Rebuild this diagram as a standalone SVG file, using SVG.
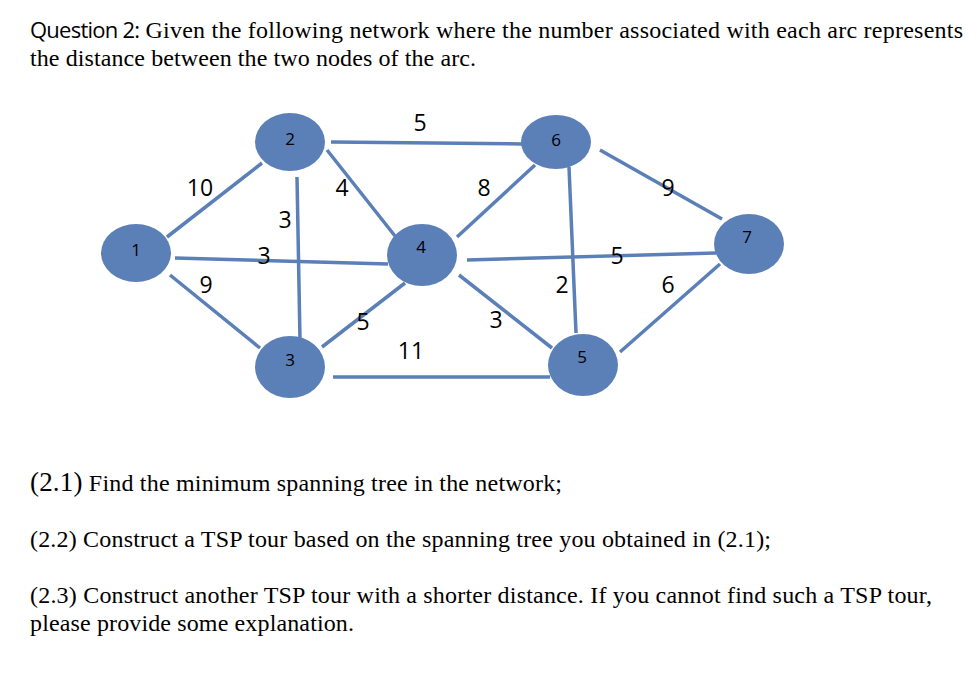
<svg xmlns="http://www.w3.org/2000/svg" width="969" height="677" viewBox="0 0 969 677">
<style>
.t{font-family:"Liberation Serif",serif;font-size:24px;fill:#000}
.e{stroke:#5b7fb7;stroke-width:3.5;fill:none}
.n{fill:#5b7fb7}
.nl{font-family:"Open Sans","Liberation Sans",sans-serif;font-size:17px;fill:#000;text-anchor:middle}
.el{font-family:"Open Sans","Liberation Sans",sans-serif;font-size:23px;fill:#000;text-anchor:middle}
</style>
<rect width="969" height="677" fill="#fff"/>
<text x="30" y="38" class="t" textLength="933" lengthAdjust="spacing"><tspan font-family="Open Sans,Liberation Sans,sans-serif" font-size="22" letter-spacing="-1">Question 2:</tspan>  Given the following network where the number associated with each arc represents</text>
<text x="30" y="66" class="t" textLength="446" lengthAdjust="spacing">the distance between the two nodes of the arc.</text>
<g id="connectors">
<line class="e" x1="167" y1="237" x2="262" y2="163"/>
<line class="e" x1="175" y1="258" x2="388" y2="264"/>
<line class="e" x1="170" y1="275" x2="260" y2="348"/>
<line class="e" x1="297" y1="177" x2="300" y2="340"/>
<line class="e" x1="327" y1="150" x2="395" y2="236"/>
<line class="e" x1="331" y1="142" x2="522" y2="144"/>
<line class="e" x1="457" y1="237" x2="535" y2="165"/>
<line class="e" x1="467" y1="260" x2="716" y2="253"/>
<line class="e" x1="459" y1="275" x2="552" y2="348"/>
<line class="e" x1="569" y1="167" x2="576" y2="333"/>
<line class="e" x1="600" y1="150" x2="722" y2="219"/>
<line class="e" x1="333" y1="377" x2="550" y2="377"/>
<line class="e" x1="322" y1="347" x2="405" y2="283"/>
<line class="e" x1="620" y1="352" x2="720" y2="264"/>
</g>
<g id="edge-labels">
<text class="el" x="420" y="131">5</text>
<text class="el" x="200" y="196">10</text>
<text class="el" x="342" y="196">4</text>
<text class="el" x="285" y="228">3</text>
<text class="el" x="264" y="264">3</text>
<text class="el" x="206" y="293">9</text>
<text class="el" x="363" y="330">5</text>
<text class="el" x="411" y="359">11</text>
<text class="el" x="484" y="196">8</text>
<text class="el" x="496" y="328">3</text>
<text class="el" x="562" y="293">2</text>
<text class="el" x="617" y="264">5</text>
<text class="el" x="668" y="293">6</text>
<text class="el" x="668" y="196">9</text>
</g>
<g id="node1"><ellipse class="n" cx="136" cy="253" rx="35" ry="29"/><text class="nl" x="136" y="256">1</text></g>
<g id="node2"><ellipse class="n" cx="290" cy="142" rx="35" ry="29"/><text class="nl" x="290" y="145">2</text></g>
<g id="node3"><ellipse class="n" cx="290" cy="367" rx="35" ry="31"/><text class="nl" x="290" y="366">3</text></g>
<g id="node4"><ellipse class="n" cx="422" cy="255" rx="35" ry="31"/><text class="nl" x="421" y="253">4</text></g>
<g id="node6"><ellipse class="n" cx="556" cy="142" rx="35" ry="27"/><text class="nl" x="556" y="146">6</text></g>
<g id="node5"><ellipse class="n" cx="583" cy="365" rx="35" ry="31"/><text class="nl" x="582" y="363">5</text></g>
<g id="node7"><ellipse class="n" cx="749" cy="244" rx="35" ry="30"/><text class="nl" x="747" y="243">7</text></g>
<text x="30" y="491" class="t" textLength="532" lengthAdjust="spacing"><tspan font-size="27">(2.1)</tspan> Find the minimum spanning tree in the network;</text>
<text x="30" y="547" class="t" textLength="741" lengthAdjust="spacing">(2.2)  Construct a TSP tour based on the spanning tree you obtained in (2.1);</text>
<text x="30" y="603" class="t" textLength="902" lengthAdjust="spacing">(2.3)  Construct another TSP tour with a shorter distance. If you cannot find such a TSP tour,</text>
<text x="30" y="631" class="t" textLength="324" lengthAdjust="spacing">please provide some explanation.</text>
</svg>
